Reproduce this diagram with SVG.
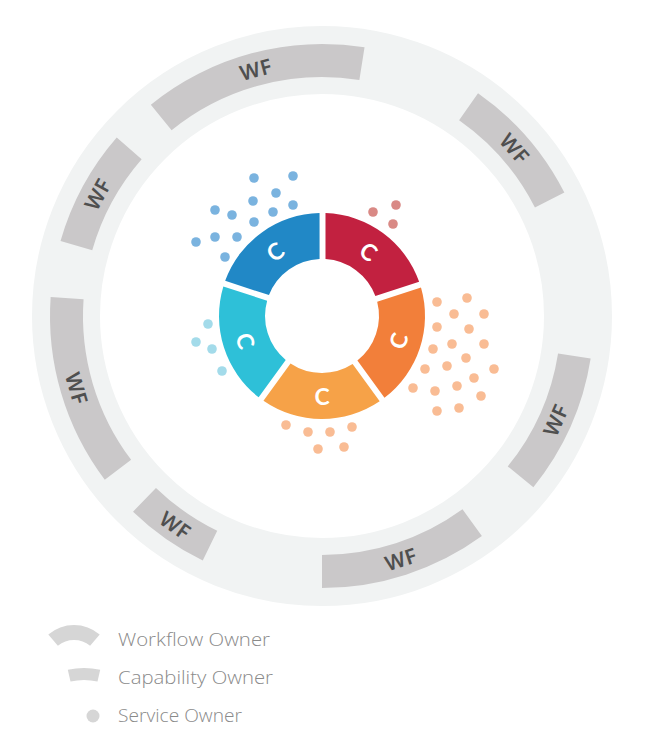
<svg xmlns="http://www.w3.org/2000/svg" width="650" height="742" viewBox="0 0 650 742">
<style>
.band{fill:#cac8c9}
.wf{font-family:"Noto Sans","DejaVu Sans",sans-serif;font-weight:600;font-size:21px;fill:#4f4f4f;text-anchor:middle;dominant-baseline:central;letter-spacing:0.5px}
.c{font-family:"Lato","Noto Sans",sans-serif;font-weight:700;font-size:23px;fill:#ffffff;text-anchor:middle;dominant-baseline:central}
.lg{font-family:"Open Sans","Lato",sans-serif;font-weight:300;font-size:18px;fill:#8a8a8a}
.legicon{fill:#d6d6d6}
.db{fill:#7ab3df}.dr{fill:#d98985}.do{fill:#f9bc94}.dc{fill:#a3dbea}
</style>
<defs>
<path id="seg" d="M325.50,213.04 A103 103 0 0 1 419.14,281.86 L375.36,296.12 A57 57 0 0 0 325.50,259.11 Z"/>
</defs>
<rect width="650" height="742" fill="#ffffff"/>
<circle cx="322" cy="316" r="256" fill="none" stroke="#f1f3f3" stroke-width="68"/>

<g id="wf1"><path class="band" d="M150.83,104.63 A272 272 0 0 1 364.54,47.35 L359.38,79.94 A239 239 0 0 0 171.60,130.27 Z"/><text class="wf" transform="translate(255.87,69.21) rotate(-15)">WF</text></g>
<g id="wf2"><path class="band" d="M478.02,93.18 A272 272 0 0 1 564.35,192.51 L534.95,207.49 A239 239 0 0 0 459.09,120.21 Z"/><text class="wf" transform="translate(514.83,148.37) rotate(49)">WF</text></g>
<g id="wf3"><path class="band" d="M590.65,358.54 A272 272 0 0 1 533.37,487.17 L507.73,466.40 A239 239 0 0 0 558.06,353.38 Z"/><text class="wf" transform="translate(555.40,419.91) rotate(-66)">WF</text></g>
<g id="wf4"><path class="band" d="M481.88,536.05 A272 272 0 0 1 322,588 L322,555 A239 239 0 0 0 462.48,509.35 Z"/><text class="wf" transform="translate(400.95,559.0) rotate(-18)">WF</text></g>
<g id="wf5"><path class="band" d="M202.76,560.47 A272 272 0 0 1 133.04,511.65 L155.97,487.91 A239 239 0 0 0 217.22,530.81 Z"/><text class="wf" transform="translate(175.45,525.31) rotate(35)">WF</text></g>
<g id="wf6"><path class="band" d="M104.78,479.69 A272 272 0 0 1 50.65,297.01 L83.57,299.32 A239 239 0 0 0 131.13,459.83 Z"/><text class="wf" transform="translate(77.03,388.56) rotate(73.5)">WF</text></g>
<g id="wf7"><path class="band" d="M60.53,241.04 A272 272 0 0 1 116.72,137.54 L141.63,159.19 A239 239 0 0 0 92.25,250.13 Z"/><text class="wf" transform="translate(97.47,194.08) rotate(-61.5)">WF</text></g>

<g id="cap-red"><use href="#seg" fill="#c22140"/><text class="c" transform="translate(369.02,251.28) rotate(36)">C</text></g>
<g id="cap-orange"><use href="#seg" fill="#f27f3a" transform="rotate(72 322 316)"/><text class="c" transform="translate(398.09,340.72) rotate(-72)">C</text></g>
<g id="cap-lightorange"><use href="#seg" fill="#f6a248" transform="rotate(144 322 316)"/><text class="c" transform="translate(322,396)">C</text></g>
<g id="cap-cyan"><use href="#seg" fill="#2ec0d8" transform="rotate(216 322 316)"/><text class="c" transform="translate(245.91,340.72) rotate(72)">C</text></g>
<g id="cap-blue"><use href="#seg" fill="#2188c6" transform="rotate(288 322 316)"/><text class="c" transform="translate(274.98,251.28) rotate(-36)">C</text></g>

<g id="svc-blue" class="db">
<circle cx="254" cy="178" r="4.8"/><circle cx="293" cy="176" r="4.8"/><circle cx="276" cy="193" r="4.8"/><circle cx="253" cy="201" r="4.8"/><circle cx="215" cy="210" r="4.8"/><circle cx="232" cy="215" r="4.8"/><circle cx="273" cy="212" r="4.8"/><circle cx="293" cy="205" r="4.8"/><circle cx="254" cy="222" r="4.8"/><circle cx="196" cy="242" r="4.8"/><circle cx="215" cy="237" r="4.8"/><circle cx="237" cy="237" r="4.8"/><circle cx="225" cy="257" r="4.8"/>
</g>
<g id="svc-red" class="dr">
<circle cx="373" cy="212" r="4.8"/><circle cx="396" cy="205" r="4.8"/><circle cx="393" cy="224" r="4.8"/>
</g>
<g id="svc-cyan" class="dc">
<circle cx="208" cy="324" r="4.8"/><circle cx="196" cy="342" r="4.8"/><circle cx="212" cy="349" r="4.8"/><circle cx="222" cy="371" r="4.8"/>
</g>
<g id="svc-lightorange" class="do">
<circle cx="286" cy="425" r="4.8"/><circle cx="308" cy="432" r="4.8"/><circle cx="330" cy="432" r="4.8"/><circle cx="352" cy="427" r="4.8"/><circle cx="318" cy="449" r="4.8"/><circle cx="344" cy="447" r="4.8"/>
</g>
<g id="svc-orange" class="do">
<circle cx="437" cy="302" r="4.8"/><circle cx="467" cy="298" r="4.8"/><circle cx="454" cy="314" r="4.8"/><circle cx="484" cy="314" r="4.8"/><circle cx="437" cy="327" r="4.8"/><circle cx="469" cy="329" r="4.8"/><circle cx="452" cy="344" r="4.8"/><circle cx="484" cy="344" r="4.8"/><circle cx="433" cy="349" r="4.8"/><circle cx="466" cy="358" r="4.8"/><circle cx="447" cy="366" r="4.8"/><circle cx="494" cy="369" r="4.8"/><circle cx="425" cy="369" r="4.8"/><circle cx="474" cy="378" r="4.8"/><circle cx="413" cy="388" r="4.8"/><circle cx="435" cy="391" r="4.8"/><circle cx="457" cy="386" r="4.8"/><circle cx="481" cy="396" r="4.8"/><circle cx="437" cy="411" r="4.8"/><circle cx="459" cy="408" r="4.8"/>
</g>

<g id="legend">
<path class="legicon" d="M48.3,634.4 A40 40 0 0 1 99.7,634.4 L90.1,645.8 A25 25 0 0 0 57.9,645.8 Z"/>
<text class="lg" x="118" y="646" textLength="152" lengthAdjust="spacingAndGlyphs">Workflow Owner</text>
<path class="legicon" d="M67.8,669.8 A72 72 0 0 1 100.2,669.8 L97.5,681.5 A60 60 0 0 0 70.5,681.5 Z"/>
<text class="lg" x="118" y="684" textLength="155" lengthAdjust="spacingAndGlyphs">Capability Owner</text>
<circle class="legicon" cx="93" cy="716" r="6.5"/>
<text class="lg" x="118" y="722" textLength="124" lengthAdjust="spacingAndGlyphs">Service Owner</text>
</g>
</svg>
